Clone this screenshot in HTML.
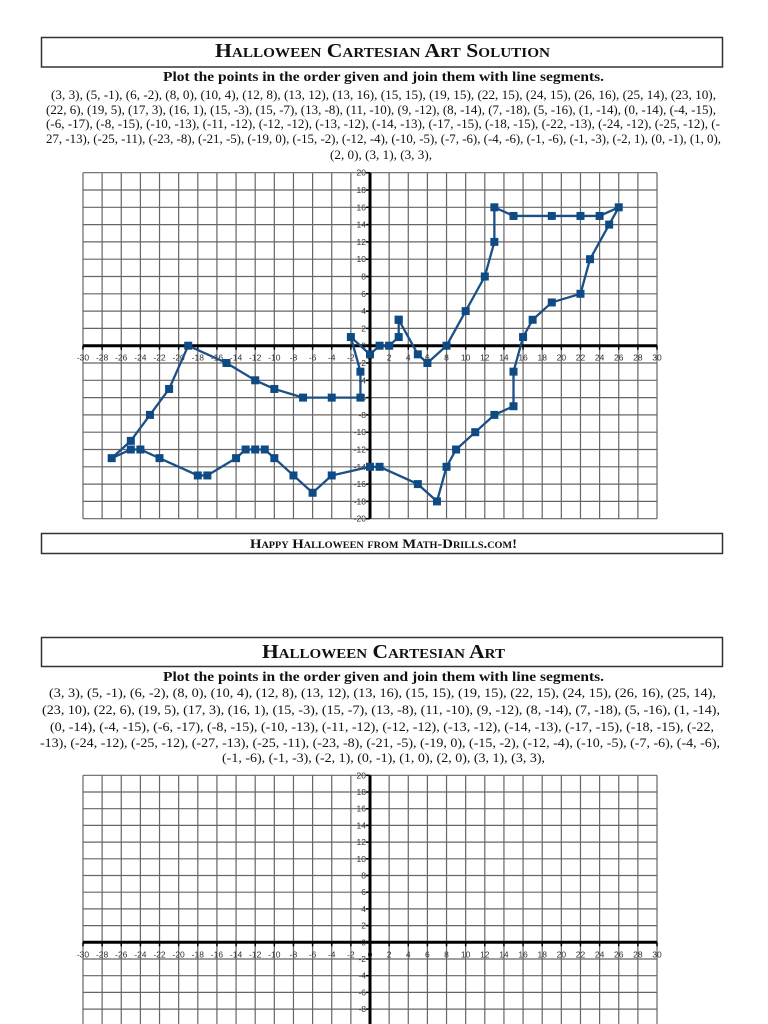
<!DOCTYPE html>
<html><head><meta charset="utf-8"><style>
html,body{margin:0;padding:0;background:#fff;width:768px;height:1024px;overflow:hidden;}
svg{display:block}
.d{font-family:"Liberation Serif",serif;font-size:12.5px;fill:#111}
.s{font-family:"Liberation Serif",serif;font-size:13.5px;font-weight:bold;fill:#111}
.t{font-family:"Liberation Serif",serif;font-variant:small-caps;fill:#111;font-weight:bold}
.tk{font-family:"Liberation Sans",sans-serif;font-size:8.5px;fill:#333}
</style></head><body>
<svg id="s" width="768" height="1024" viewBox="0 0 768 1024" overflow="hidden" xmlns="http://www.w3.org/2000/svg">
<defs><clipPath id="cp"><rect x="0" y="0" width="768" height="1024"/></clipPath></defs>
<rect x="41.5" y="37.5" width="681" height="29.5" fill="none" stroke="#333" stroke-width="1.5"/>
<text class="t" x="215" y="57" textLength="335" lengthAdjust="spacingAndGlyphs" font-size="20">Halloween Cartesian Art Solution</text>
<text class="s" x="163" y="81" textLength="441" lengthAdjust="spacingAndGlyphs">Plot the points in the order given and join them with line segments.</text>
<text class="d" x="51" y="99" textLength="665" lengthAdjust="spacingAndGlyphs">(3, 3), (5, -1), (6, -2), (8, 0), (10, 4), (12, 8), (13, 12), (13, 16), (15, 15), (19, 15), (22, 15), (24, 15), (26, 16), (25, 14), (23, 10),</text>
<text class="d" x="46" y="114" textLength="670" lengthAdjust="spacingAndGlyphs">(22, 6), (19, 5), (17, 3), (16, 1), (15, -3), (15, -7), (13, -8), (11, -10), (9, -12), (8, -14), (7, -18), (5, -16), (1, -14), (0, -14), (-4, -15),</text>
<text class="d" x="46" y="128" textLength="674" lengthAdjust="spacingAndGlyphs">(-6, -17), (-8, -15), (-10, -13), (-11, -12), (-12, -12), (-13, -12), (-14, -13), (-17, -15), (-18, -15), (-22, -13), (-24, -12), (-25, -12), (-</text>
<text class="d" x="46" y="143" textLength="675" lengthAdjust="spacingAndGlyphs">27, -13), (-25, -11), (-23, -8), (-21, -5), (-19, 0), (-15, -2), (-12, -4), (-10, -5), (-7, -6), (-4, -6), (-1, -6), (-1, -3), (-2, 1), (0, -1), (1, 0),</text>
<text class="d" x="330" y="159" textLength="102" lengthAdjust="spacingAndGlyphs">(2, 0), (3, 1), (3, 3),</text>
<rect x="41.5" y="533.5" width="681" height="20" fill="none" stroke="#333" stroke-width="1.5"/>
<text class="t" x="250" y="548" textLength="267" lengthAdjust="spacingAndGlyphs" font-size="13">Happy Halloween from Math-Drills.com!</text>
<rect x="41.5" y="637.5" width="681" height="29" fill="none" stroke="#333" stroke-width="1.5"/>
<text class="t" x="262" y="658" textLength="243" lengthAdjust="spacingAndGlyphs" font-size="20">Halloween Cartesian Art</text>
<text class="s" x="163" y="681" textLength="441" lengthAdjust="spacingAndGlyphs">Plot the points in the order given and join them with line segments.</text>
<text class="d" x="49" y="697" textLength="667" lengthAdjust="spacingAndGlyphs">(3, 3), (5, -1), (6, -2), (8, 0), (10, 4), (12, 8), (13, 12), (13, 16), (15, 15), (19, 15), (22, 15), (24, 15), (26, 16), (25, 14),</text>
<text class="d" x="42" y="714" textLength="678" lengthAdjust="spacingAndGlyphs">(23, 10), (22, 6), (19, 5), (17, 3), (16, 1), (15, -3), (15, -7), (13, -8), (11, -10), (9, -12), (8, -14), (7, -18), (5, -16), (1, -14),</text>
<text class="d" x="50" y="731" textLength="664" lengthAdjust="spacingAndGlyphs">(0, -14), (-4, -15), (-6, -17), (-8, -15), (-10, -13), (-11, -12), (-12, -12), (-13, -12), (-14, -13), (-17, -15), (-18, -15), (-22,</text>
<text class="d" x="40" y="747" textLength="680" lengthAdjust="spacingAndGlyphs">-13), (-24, -12), (-25, -12), (-27, -13), (-25, -11), (-23, -8), (-21, -5), (-19, 0), (-15, -2), (-12, -4), (-10, -5), (-7, -6), (-4, -6),</text>
<text class="d" x="222" y="762" textLength="323" lengthAdjust="spacingAndGlyphs">(-1, -6), (-1, -3), (-2, 1), (0, -1), (1, 0), (2, 0), (3, 1), (3, 3),</text>
<g id="g" clip-path="url(#cp)"></g>
</svg>
<script>
var NS="http://www.w3.org/2000/svg",g=document.getElementById("g");
function el(t,a,txt){var e=document.createElementNS(NS,t);for(var k in a)e.setAttribute(k,a[k]);if(txt!=null)e.textContent=txt;g.appendChild(e);return e;}
var pts=[[3,3],[5,-1],[6,-2],[8,0],[10,4],[12,8],[13,12],[13,16],[15,15],[19,15],[22,15],[24,15],[26,16],[25,14],[23,10],[22,6],[19,5],[17,3],[16,1],[15,-3],[15,-7],[13,-8],[11,-10],[9,-12],[8,-14],[7,-18],[5,-16],[1,-14],[0,-14],[-4,-15],[-6,-17],[-8,-15],[-10,-13],[-11,-12],[-12,-12],[-13,-12],[-14,-13],[-17,-15],[-18,-15],[-22,-13],[-24,-12],[-25,-12],[-27,-13],[-25,-11],[-23,-8],[-21,-5],[-19,0],[-15,-2],[-12,-4],[-10,-5],[-7,-6],[-4,-6],[-1,-6],[-1,-3],[-2,1],[0,-1],[1,0],[2,0],[3,1],[3,3]];
function chart(ox,oy,sx,sy,plot){
  var L=ox-30*sx,R=ox+30*sx,T=oy-20*sy,B=Math.min(oy+20*sy,1024);
  for(var i=-30;i<=30;i+=2){var x=ox+i*sx;el("line",{x1:x,y1:T,x2:x,y2:B,stroke:"#666","stroke-width":1.2});}
  for(var j=-20;j<=20;j+=2){var y=oy+j*sy;if(y>1024)continue;el("line",{x1:L,y1:y,x2:R,y2:y,stroke:"#666","stroke-width":1.2});}
  el("line",{x1:L,y1:oy,x2:R,y2:oy,stroke:"#000","stroke-width":3});
  el("line",{x1:ox,y1:T,x2:ox,y2:B,stroke:"#000","stroke-width":3});
  for(var i=-30;i<=30;i+=2){var x=ox+i*sx;el("line",{x1:x,y1:oy,x2:x,y2:oy+4,stroke:"#000","stroke-width":1.5});
    el("text",{"class":"tk",x:x,y:oy+15,"text-anchor":"middle"},String(i));}
  for(var j=-20;j<=20;j+=2){var y=oy-j*sy;if(y>1020)continue;el("line",{x1:ox-4,y1:y,x2:ox,y2:y,stroke:"#000","stroke-width":1.5});
    el("text",{"class":"tk",x:ox-4,y:y+3,"text-anchor":"end"},String(j));}
  if(plot){
    var s=pts.map(function(p){return (ox+p[0]*sx)+","+(oy-p[1]*sy);}).join(" ");
    el("polyline",{points:s,fill:"none",stroke:"#1b4f86","stroke-width":2.3,"stroke-linejoin":"round"});
    pts.forEach(function(p){el("rect",{x:ox+p[0]*sx-4,y:oy-p[1]*sy-4,width:8,height:8,fill:"#0e4a84"});});
  }
}
chart(370,345.7,9.567,8.65,true);
chart(370,942.3,9.567,8.35,false);
</script>
</body></html>
